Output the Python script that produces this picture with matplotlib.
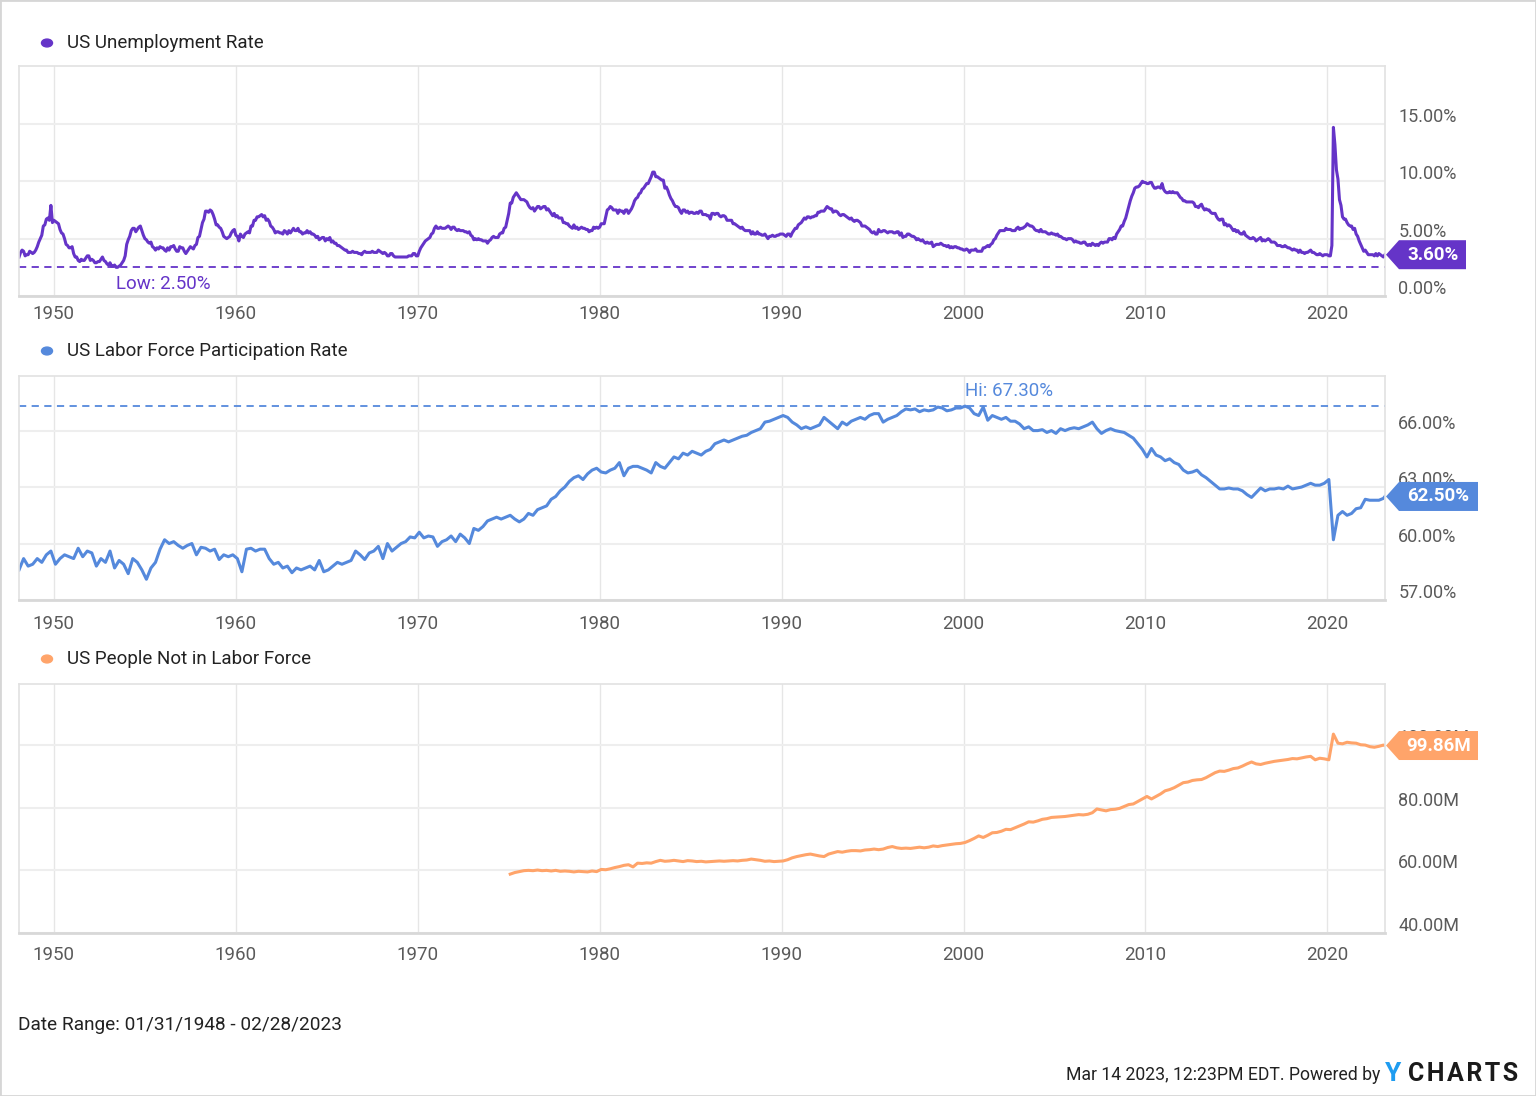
import numpy as np
import matplotlib
matplotlib.use("Agg")
import matplotlib.pyplot as plt
from matplotlib.patches import Polygon, Rectangle, Circle
from matplotlib.transforms import ScaledTranslation

plt.rcParams['font.family'] = ['Roboto', 'DejaVu Sans']

# ---- data -------------------------------------------------------------
# US unemployment rate, monthly (%), one row per year, Jan 1948 - Feb 2023
unrate = [
    [3.4, 3.8, 4.0, 3.9, 3.5, 3.6, 3.6, 3.9, 3.8, 3.7, 3.8, 4.0],   # 1948
    [4.3, 4.7, 5.0, 5.3, 6.1, 6.2, 6.7, 6.8, 6.6, 7.9, 6.4, 6.6],
    [6.5, 6.4, 6.3, 5.8, 5.5, 5.4, 5.0, 4.5, 4.4, 4.2, 4.2, 4.3],   # 1950
    [3.7, 3.4, 3.4, 3.1, 3.0, 3.2, 3.1, 3.1, 3.3, 3.5, 3.5, 3.1],
    [3.2, 3.1, 2.9, 2.9, 3.0, 3.0, 3.2, 3.4, 3.1, 3.0, 2.8, 2.7],
    [2.9, 2.6, 2.6, 2.7, 2.5, 2.5, 2.6, 2.7, 2.9, 3.1, 3.5, 4.5],
    [4.9, 5.2, 5.7, 5.9, 5.9, 5.6, 5.8, 6.0, 6.1, 5.7, 5.3, 5.0],
    [4.9, 4.7, 4.6, 4.7, 4.3, 4.2, 4.0, 4.2, 4.1, 4.3, 4.2, 4.2],
    [4.0, 3.9, 4.2, 4.0, 4.3, 4.3, 4.4, 4.1, 3.9, 3.9, 4.3, 4.2],
    [4.2, 3.9, 3.7, 3.9, 4.1, 4.3, 4.2, 4.1, 4.4, 4.5, 5.1, 5.2],
    [5.8, 6.4, 6.7, 7.4, 7.4, 7.3, 7.5, 7.4, 7.1, 6.7, 6.2, 6.2],
    [6.0, 5.9, 5.6, 5.2, 5.1, 5.0, 5.1, 5.2, 5.5, 5.7, 5.8, 5.3],
    [5.2, 4.8, 5.4, 5.2, 5.1, 5.4, 5.5, 5.6, 5.5, 6.1, 6.1, 6.6],   # 1960
    [6.6, 6.9, 6.9, 7.0, 7.1, 6.9, 7.0, 6.6, 6.7, 6.5, 6.1, 6.0],
    [5.8, 5.5, 5.6, 5.6, 5.5, 5.5, 5.4, 5.7, 5.6, 5.4, 5.7, 5.5],
    [5.7, 5.9, 5.7, 5.7, 5.9, 5.6, 5.6, 5.4, 5.5, 5.5, 5.7, 5.5],
    [5.6, 5.4, 5.4, 5.3, 5.1, 5.2, 4.9, 5.0, 5.1, 5.1, 4.8, 5.0],
    [4.9, 5.1, 4.7, 4.8, 4.6, 4.6, 4.4, 4.4, 4.3, 4.2, 4.1, 4.0],
    [4.0, 3.8, 3.8, 3.8, 3.9, 3.8, 3.8, 3.8, 3.7, 3.7, 3.6, 3.8],
    [3.9, 3.8, 3.8, 3.8, 3.8, 3.9, 3.8, 3.8, 3.8, 4.0, 3.9, 3.8],
    [3.7, 3.8, 3.7, 3.5, 3.5, 3.7, 3.7, 3.5, 3.4, 3.4, 3.4, 3.4],
    [3.4, 3.4, 3.4, 3.4, 3.4, 3.5, 3.5, 3.5, 3.7, 3.7, 3.5, 3.5],
    [3.9, 4.2, 4.4, 4.6, 4.8, 4.9, 5.0, 5.1, 5.4, 5.5, 5.9, 6.1],   # 1970
    [5.9, 5.9, 6.0, 5.9, 5.9, 5.9, 6.0, 6.1, 6.0, 5.8, 6.0, 6.0],
    [5.8, 5.7, 5.8, 5.7, 5.7, 5.7, 5.6, 5.6, 5.5, 5.6, 5.3, 5.2],
    [4.9, 5.0, 4.9, 5.0, 4.9, 4.9, 4.8, 4.8, 4.8, 4.6, 4.8, 4.9],
    [5.1, 5.2, 5.1, 5.1, 5.1, 5.4, 5.5, 5.5, 5.9, 6.0, 6.6, 7.2],
    [8.1, 8.1, 8.6, 8.8, 9.0, 8.8, 8.6, 8.4, 8.4, 8.4, 8.3, 8.2],
    [7.9, 7.7, 7.6, 7.7, 7.4, 7.6, 7.8, 7.8, 7.6, 7.7, 7.8, 7.8],
    [7.5, 7.6, 7.4, 7.2, 7.0, 7.2, 6.9, 7.0, 6.8, 6.8, 6.8, 6.4],
    [6.4, 6.3, 6.3, 6.1, 6.0, 5.9, 6.2, 5.9, 6.0, 5.8, 5.9, 6.0],
    [5.9, 5.9, 5.8, 5.8, 5.6, 5.7, 5.7, 6.0, 5.9, 6.0, 5.9, 6.0],
    [6.3, 6.3, 6.3, 6.9, 7.5, 7.6, 7.8, 7.7, 7.5, 7.5, 7.5, 7.2],   # 1980
    [7.5, 7.4, 7.4, 7.2, 7.5, 7.5, 7.2, 7.4, 7.6, 7.9, 8.3, 8.5],
    [8.6, 8.9, 9.0, 9.3, 9.4, 9.6, 9.8, 9.8, 10.1, 10.4, 10.8, 10.8],
    [10.4, 10.4, 10.3, 10.2, 10.1, 10.1, 9.4, 9.5, 9.2, 8.8, 8.5, 8.3],
    [8.0, 7.8, 7.8, 7.7, 7.4, 7.2, 7.5, 7.5, 7.3, 7.4, 7.2, 7.3],
    [7.3, 7.2, 7.2, 7.3, 7.2, 7.4, 7.4, 7.1, 7.1, 7.1, 7.0, 7.0],
    [6.7, 7.2, 7.2, 7.1, 7.2, 7.2, 7.0, 6.9, 7.0, 7.0, 6.9, 6.6],
    [6.6, 6.6, 6.6, 6.3, 6.3, 6.2, 6.1, 6.0, 5.9, 6.0, 5.8, 5.7],
    [5.7, 5.7, 5.7, 5.4, 5.6, 5.4, 5.4, 5.6, 5.4, 5.4, 5.3, 5.3],
    [5.4, 5.2, 5.0, 5.2, 5.2, 5.3, 5.2, 5.2, 5.3, 5.3, 5.4, 5.4],
    [5.4, 5.3, 5.2, 5.4, 5.4, 5.2, 5.5, 5.7, 5.9, 5.9, 6.2, 6.3],   # 1990
    [6.4, 6.6, 6.8, 6.7, 6.9, 6.9, 6.8, 6.9, 6.9, 7.0, 7.0, 7.3],
    [7.3, 7.4, 7.4, 7.4, 7.6, 7.8, 7.7, 7.6, 7.6, 7.3, 7.4, 7.4],
    [7.3, 7.1, 7.0, 7.1, 7.1, 7.0, 6.9, 6.8, 6.7, 6.8, 6.6, 6.5],
    [6.6, 6.6, 6.5, 6.4, 6.1, 6.1, 6.1, 6.0, 5.9, 5.8, 5.6, 5.5],
    [5.6, 5.4, 5.4, 5.8, 5.6, 5.6, 5.7, 5.7, 5.6, 5.5, 5.6, 5.6],
    [5.6, 5.5, 5.5, 5.6, 5.6, 5.3, 5.5, 5.1, 5.2, 5.2, 5.4, 5.4],
    [5.3, 5.2, 5.2, 5.1, 4.9, 5.0, 4.9, 4.8, 4.9, 4.7, 4.6, 4.7],
    [4.6, 4.6, 4.7, 4.3, 4.4, 4.5, 4.5, 4.5, 4.6, 4.5, 4.4, 4.4],
    [4.3, 4.4, 4.2, 4.3, 4.2, 4.3, 4.3, 4.2, 4.2, 4.1, 4.1, 4.0],
    [4.0, 4.1, 4.0, 3.8, 4.0, 4.0, 4.0, 4.1, 3.9, 3.9, 3.9, 3.9],   # 2000
    [4.2, 4.2, 4.3, 4.4, 4.3, 4.5, 4.6, 4.9, 5.0, 5.3, 5.5, 5.7],
    [5.7, 5.7, 5.7, 5.9, 5.8, 5.8, 5.8, 5.7, 5.7, 5.7, 5.9, 6.0],
    [5.8, 5.9, 5.9, 6.0, 6.1, 6.3, 6.2, 6.1, 6.1, 6.0, 5.8, 5.7],
    [5.7, 5.6, 5.8, 5.6, 5.6, 5.6, 5.5, 5.4, 5.4, 5.5, 5.4, 5.4],
    [5.3, 5.4, 5.2, 5.2, 5.1, 5.0, 5.0, 4.9, 5.0, 5.0, 5.0, 4.9],
    [4.7, 4.8, 4.7, 4.7, 4.6, 4.6, 4.7, 4.7, 4.5, 4.4, 4.5, 4.4],
    [4.6, 4.5, 4.4, 4.5, 4.4, 4.6, 4.7, 4.6, 4.7, 4.7, 4.7, 5.0],
    [5.0, 4.9, 5.1, 5.0, 5.4, 5.6, 5.8, 6.1, 6.1, 6.5, 6.8, 7.3],
    [7.8, 8.3, 8.7, 9.0, 9.4, 9.5, 9.5, 9.6, 9.8, 10.0, 9.9, 9.9],
    [9.8, 9.8, 9.9, 9.9, 9.6, 9.4, 9.4, 9.5, 9.5, 9.4, 9.8, 9.3],   # 2010
    [9.1, 9.0, 9.0, 9.1, 9.0, 9.1, 9.0, 9.0, 9.0, 8.8, 8.6, 8.5],
    [8.3, 8.3, 8.2, 8.2, 8.2, 8.2, 8.2, 8.1, 7.8, 7.8, 7.7, 7.9],
    [8.0, 7.7, 7.5, 7.6, 7.5, 7.5, 7.3, 7.2, 7.2, 7.2, 6.9, 6.7],
    [6.6, 6.7, 6.7, 6.2, 6.3, 6.1, 6.2, 6.1, 5.9, 5.7, 5.8, 5.6],
    [5.7, 5.5, 5.4, 5.4, 5.6, 5.3, 5.2, 5.1, 5.0, 5.0, 5.1, 5.0],
    [4.8, 4.9, 5.0, 5.1, 4.8, 4.9, 4.8, 4.9, 5.0, 4.9, 4.7, 4.7],
    [4.7, 4.6, 4.4, 4.4, 4.4, 4.3, 4.3, 4.4, 4.3, 4.2, 4.2, 4.1],
    [4.0, 4.1, 4.0, 4.0, 3.8, 4.0, 3.8, 3.8, 3.7, 3.8, 3.8, 3.9],
    [4.0, 3.8, 3.8, 3.7, 3.6, 3.6, 3.7, 3.6, 3.5, 3.6, 3.6, 3.6],
    [3.5, 3.5, 4.4, 14.7, 13.2, 11.0, 10.2, 8.4, 7.9, 6.9, 6.7, 6.7],  # 2020
    [6.4, 6.2, 6.1, 6.1, 5.8, 5.9, 5.4, 5.2, 4.8, 4.5, 4.2, 3.9],
    [4.0, 3.8, 3.6, 3.6, 3.6, 3.6, 3.5, 3.7, 3.5, 3.7, 3.6, 3.5],
    [3.4, 3.6],                                                        # 2023
]

# US labor force participation rate (%), quarterly (Jan, Apr, Jul, Oct)
lfpr = [
    [58.6, 59.2, 58.8, 58.9], [59.2, 59.0, 59.4, 59.6],                # 1948-49
    [58.9, 59.2, 59.4, 59.3], [59.2, 59.75, 59.3, 59.6],
    [59.5, 58.8, 59.2, 59.0], [59.6, 58.7, 59.1, 58.9],
    [58.4, 59.2, 59.0, 58.6], [58.1, 58.7, 59.0, 59.7],
    [60.2, 60.0, 60.1, 59.9], [59.75, 59.9, 60.0, 59.4],
    [59.8, 59.75, 59.6, 59.7], [59.15, 59.4, 59.3, 59.4],
    [59.2, 58.5, 59.7, 59.75], [59.6, 59.7, 59.7, 59.2],               # 1960-61
    [58.9, 59.0, 58.7, 58.8], [58.45, 58.7, 58.6, 58.7],
    [58.8, 58.6, 59.1, 58.5], [58.6, 58.8, 59.0, 58.9],
    [59.0, 59.1, 59.6, 59.4], [59.15, 59.5, 59.6, 59.85],
    [59.2, 60.0, 59.6, 59.8], [60.0, 60.1, 60.35, 60.3],
    [60.6, 60.3, 60.4, 60.35], [59.85, 60.1, 60.2, 60.4],              # 1970-71
    [60.1, 60.5, 60.3, 60.0], [60.8, 60.7, 60.9, 61.2],
    [61.3, 61.4, 61.3, 61.4], [61.5, 61.3, 61.15, 61.3],
    [61.6, 61.5, 61.8, 61.9], [62.0, 62.35, 62.5, 62.8],
    [63.0, 63.3, 63.5, 63.6], [63.4, 63.7, 63.9, 64.0],
    [63.8, 63.75, 63.9, 64.0], [64.3, 63.6, 64.0, 64.1],               # 1980-81
    [64.1, 64.0, 63.9, 63.75], [64.3, 64.1, 64.0, 64.3],
    [64.6, 64.5, 64.8, 64.7], [64.9, 64.8, 64.7, 64.9],
    [65.0, 65.3, 65.4, 65.5], [65.4, 65.5, 65.6, 65.7],
    [65.75, 65.9, 66.0, 66.1], [66.45, 66.5, 66.6, 66.7],
    [66.8, 66.7, 66.45, 66.3], [66.1, 66.2, 66.1, 66.2],               # 1990-91
    [66.3, 66.7, 66.5, 66.3], [66.1, 66.45, 66.3, 66.5],
    [66.6, 66.7, 66.6, 66.8], [66.9, 66.9, 66.45, 66.6],
    [66.7, 66.8, 67.0, 67.15], [67.1, 67.15, 67.0, 67.1],
    [67.05, 67.1, 67.25, 67.2], [67.05, 67.1, 67.2, 67.2],
    [67.3, 67.2, 66.9, 66.8], [67.25, 66.55, 66.8, 66.7],              # 2000-01
    [66.6, 66.7, 66.5, 66.5], [66.35, 66.1, 66.2, 66.0],
    [66.0, 66.05, 65.9, 66.0], [65.85, 66.1, 66.0, 66.1],
    [66.15, 66.1, 66.2, 66.3], [66.45, 66.1, 65.85, 66.0],
    [66.1, 66.0, 65.95, 65.9], [65.75, 65.6, 65.3, 65.0],
    [64.6, 65.05, 64.7, 64.6], [64.4, 64.5, 64.3, 64.2],               # 2010-11
    [63.9, 63.75, 63.8, 63.9], [63.65, 63.5, 63.3, 63.1],
    [62.9, 62.9, 62.95, 62.9], [62.9, 62.8, 62.6, 62.45],
    [62.7, 62.95, 62.8, 62.9], [62.9, 62.95, 62.9, 63.05],
    [62.9, 62.95, 63.0, 63.1], [63.2, 63.1, 63.1, 63.2],
    [63.4, 60.2, 61.5, 61.7], [61.5, 61.6, 61.85, 61.9],               # 2020-21
    [62.35, 62.3, 62.3, 62.3], [62.4],                                 # 2022-23
]
lfpr_latest = 62.5      # Feb 2023
lfpr_hi = 67.3

# US people not in labor force (millions), quarterly, from 1975
nilf = [
    [58.8, 59.3, 59.6, 59.9], [60.0, 59.9, 60.1, 59.9],                # 1975-76
    [60.0, 59.8, 60.0, 59.7], [59.8, 59.7, 59.5, 59.7],
    [59.6, 59.5, 59.8, 59.6], [60.3, 60.2, 60.5, 60.9],
    [61.2, 61.6, 61.8, 61.1], [62.3, 62.2, 62.4, 62.3],
    [62.8, 63.2, 62.9, 63.0], [63.2, 63.0, 62.8, 63.1],
    [63.0, 62.8, 62.9, 62.7], [62.8, 62.9, 63.0, 62.9],                # 1985-86
    [63.0, 63.1, 63.0, 63.2], [63.3, 63.6, 63.4, 63.2],
    [62.9, 63.0, 62.8, 62.9], [63.0, 63.4, 64.0, 64.4],
    [64.7, 65.0, 65.2, 64.9], [64.6, 64.4, 65.2, 65.6],
    [66.0, 65.8, 66.1, 66.3], [66.3, 66.2, 66.5, 66.6],
    [66.8, 66.6, 66.8, 67.3], [67.6, 67.2, 67.0, 67.1],                # 1995-96
    [67.0, 67.2, 67.4, 67.2], [67.4, 67.8, 67.6, 67.9],
    [68.1, 68.3, 68.5, 68.6], [68.9, 69.5, 70.2, 71.0],
    [70.5, 71.2, 72.0, 72.1], [72.5, 73.1, 73.0, 73.6],
    [74.2, 74.8, 75.5, 75.4], [75.8, 76.3, 76.5, 76.9],
    [77.0, 77.1, 77.2, 77.4], [77.6, 77.8, 77.7, 77.9],                # 2005-06
    [78.4, 79.6, 79.3, 79.0], [79.4, 79.5, 79.8, 80.4],
    [81.0, 81.2, 82.0, 82.8], [83.6, 82.8, 83.6, 84.4],
    [85.4, 85.8, 86.4, 87.2], [88.0, 88.2, 88.7, 88.9],
    [89.0, 89.6, 90.4, 91.2], [91.7, 91.6, 92.0, 92.5],
    [92.7, 93.3, 94.0, 94.6], [94.0, 93.8, 94.2, 94.5],                # 2015-16
    [94.8, 95.0, 95.2, 95.4], [95.7, 95.6, 95.9, 96.2],
    [96.4, 95.3, 95.8, 95.6], [95.3, 103.5, 100.6, 100.4],
    [100.9, 100.7, 100.6, 100.1], [100.0, 99.5, 99.3, 99.6],
    [100.0],                                                           # 2023
]
nilf_latest = 99.86     # Feb 2023

unrate_low = 2.5
decades = [1950, 1960, 1970, 1980, 1990, 2000, 2010, 2020]

PURPLE = '#6534c8'
BLUE = '#5589dc'
ORANGE = '#ffa46a'


def monthly_series(rows, start_year):
    xs, ys = [], []
    for i, row in enumerate(rows):
        for m, v in enumerate(row):
            xs.append(start_year + i + (m + 1) / 12)
            ys.append(v)
    return np.array(xs), np.array(ys)


def quarterly_series(rows, start_year):
    xs, ys = [], []
    for i, row in enumerate(rows):
        for q, v in enumerate(row):
            xs.append(start_year + i + (3 * q + 1) / 12)
            ys.append(v)
    return np.array(xs), np.array(ys)


W, H = 1536, 1096
fig = plt.figure(figsize=(W / 100, H / 100), dpi=100)


def fx(x):
    return x / W


def fy(y):
    return 1 - y / H


def make_axes(top, bottom, xpad):
    ax = fig.add_axes([fx(19), fy(bottom), fx(1385) - fx(19), fy(top) - fy(bottom)])
    ax.set_xlim(1948.08, 2023.17)
    for s in ax.spines.values():
        s.set_color('#e2e2e2')
        s.set_linewidth(1.2)
    ax.spines['bottom'].set_color('#d8d8d8')
    ax.spines['bottom'].set_linewidth(2)
    ax.yaxis.tick_right()
    ax.set_xticks(decades)
    ax.tick_params(axis='both', length=0, labelsize=13, labelcolor='#5a5a5a')
    ax.tick_params(axis='x', labelsize=13.5, pad=xpad)
    ax.tick_params(axis='y', pad=9.5)
    ax.grid(True, axis='y', color='#eeeeee', lw=1.5)
    ax.grid(True, axis='x', color='#e6e6e6', lw=1)
    ax.set_axisbelow(True)
    return ax


def shift_ylabels(ax, px):
    off = ScaledTranslation(0, px / 100, fig.dpi_scale_trans)
    for lab in ax.get_yticklabels():
        lab.set_transform(lab.get_transform() + off)


def header(y, color, text):
    fig.patches.append(Circle((fx(47), fy(y)), radius=5.5 / W, transform=fig.transFigure,
                              color=color, zorder=5))
    fig.text(fx(67), fy(y), text, fontsize=13.5, color='#222222', va='center', ha='left')


def tag(ax, value, color, text, width):
    to_fig = fig.transFigure.inverted()
    yv = ax.transData.transform((2020, value))[1]
    xr = ax.transAxes.transform((1, 0))[0]
    h = 14.5
    pts = [(xr + 1, yv), (xr + 14, yv + h), (xr + width, yv + h),
           (xr + width, yv - h), (xr + 14, yv - h)]
    pts = to_fig.transform(pts)
    fig.patches.append(Polygon(pts, closed=True, transform=fig.transFigure,
                               fc=color, ec='none', zorder=10))
    cx, cy = to_fig.transform((xr + 14 + (width - 14) / 2, yv))
    fig.text(cx, cy, text, color='white', fontsize=13.5, fontweight='bold',
             ha='center', va='center', zorder=11)


# ---- panel 1: unemployment --------------------------------------------
ax1 = make_axes(66, 296, 6.5)
ux, uy = monthly_series(unrate, 1948)
ax1.plot(ux, uy, color=PURPLE, lw=2.2, solid_joinstyle='round')
ax1.set_ylim(0, 20.05)
ax1.set_yticks([0, 5, 10, 15])
ax1.set_yticklabels(['0.00%', '5.00%', '10.00%', '15.00%'])
ax1.axhline(unrate_low, color=PURPLE, lw=1.3, ls=(0, (4, 3)))
low_x = ux[np.argmin(uy)]
ax1.text(low_x, unrate_low - 0.65, 'Low: 2.50%', color=PURPLE, fontsize=13.5,
         ha='left', va='top')
shift_ylabels(ax1, 9)

# ---- panel 2: labor force participation --------------------------------
ax2 = make_axes(376, 600, 10.5)
lx, ly = quarterly_series(lfpr, 1948)
lx = np.append(lx, 2023 + 2 / 12)
ly = np.append(ly, lfpr_latest)
ax2.plot(lx, ly, color=BLUE, lw=2.2, solid_joinstyle='round')
ax2.set_ylim(57.23, 68.9)
ax2.set_yticks([57, 60, 63, 66])
ax2.set_yticklabels(['57.00%', '60.00%', '63.00%', '66.00%'])
ax2.axhline(lfpr_hi, color=BLUE, lw=1.3, ls=(0, (4, 3)))
hi_x = lx[np.argmax(ly)]
ax2.text(hi_x, lfpr_hi + 0.35, 'Hi: 67.30%', color=BLUE, fontsize=13.5,
         ha='left', va='bottom')
shift_ylabels(ax2, 9)

# ---- panel 3: not in labor force ----------------------------------------
ax3 = make_axes(684, 933, 9.5)
nx, ny = quarterly_series(nilf, 1975)
nx = np.append(nx, 2023 + 2 / 12)
ny = np.append(ny, nilf_latest)
ax3.plot(nx, ny, color=ORANGE, lw=2.2, solid_joinstyle='round')
ax3.set_ylim(41.1, 119.5)
ax3.set_yticks([40, 60, 80, 100])
ax3.set_yticklabels(['40.00M', '60.00M', '80.00M', '100.00M'])
shift_ylabels(ax3, 9)

# ---- headers, tags, footer ------------------------------------------------
header(43, PURPLE, 'US Unemployment Rate')
header(351, BLUE, 'US Labor Force Participation Rate')
header(659, ORANGE, 'US People Not in Labor Force')

tag(ax1, unrate[-1][-1], PURPLE, '3.60%', 81)
tag(ax2, lfpr_latest, BLUE, '62.50%', 93)
tag(ax3, nilf_latest, ORANGE, '99.86M', 93)

fig.text(fx(18), fy(1025), 'Date Range: 01/31/1948 - 02/28/2023', fontsize=13.7,
         color='#222222', ha='left', va='center')
fig.text(fx(1380), fy(1075), 'Mar 14 2023, 12:23PM EDT. Powered by', fontsize=12.7,
         color='#222222', ha='right', va='center')
fig.text(fx(1401), fy(1074), 'Y', fontsize=19, fontweight='bold', color='#1e9cf0',
         ha='right', va='center')
fig.text(fx(1518), fy(1074), 'C H A R T S'.replace(' ', '\u200a'), fontsize=18,
         fontweight='bold', color='#1a1a1a', ha='right', va='center')

fig.patches.append(Rectangle((0, 0), 1, 1, transform=fig.transFigure, fill=False,
                             ec='#d6d6d6', lw=2))

fig.savefig('out.png', dpi=100, facecolor='white')
